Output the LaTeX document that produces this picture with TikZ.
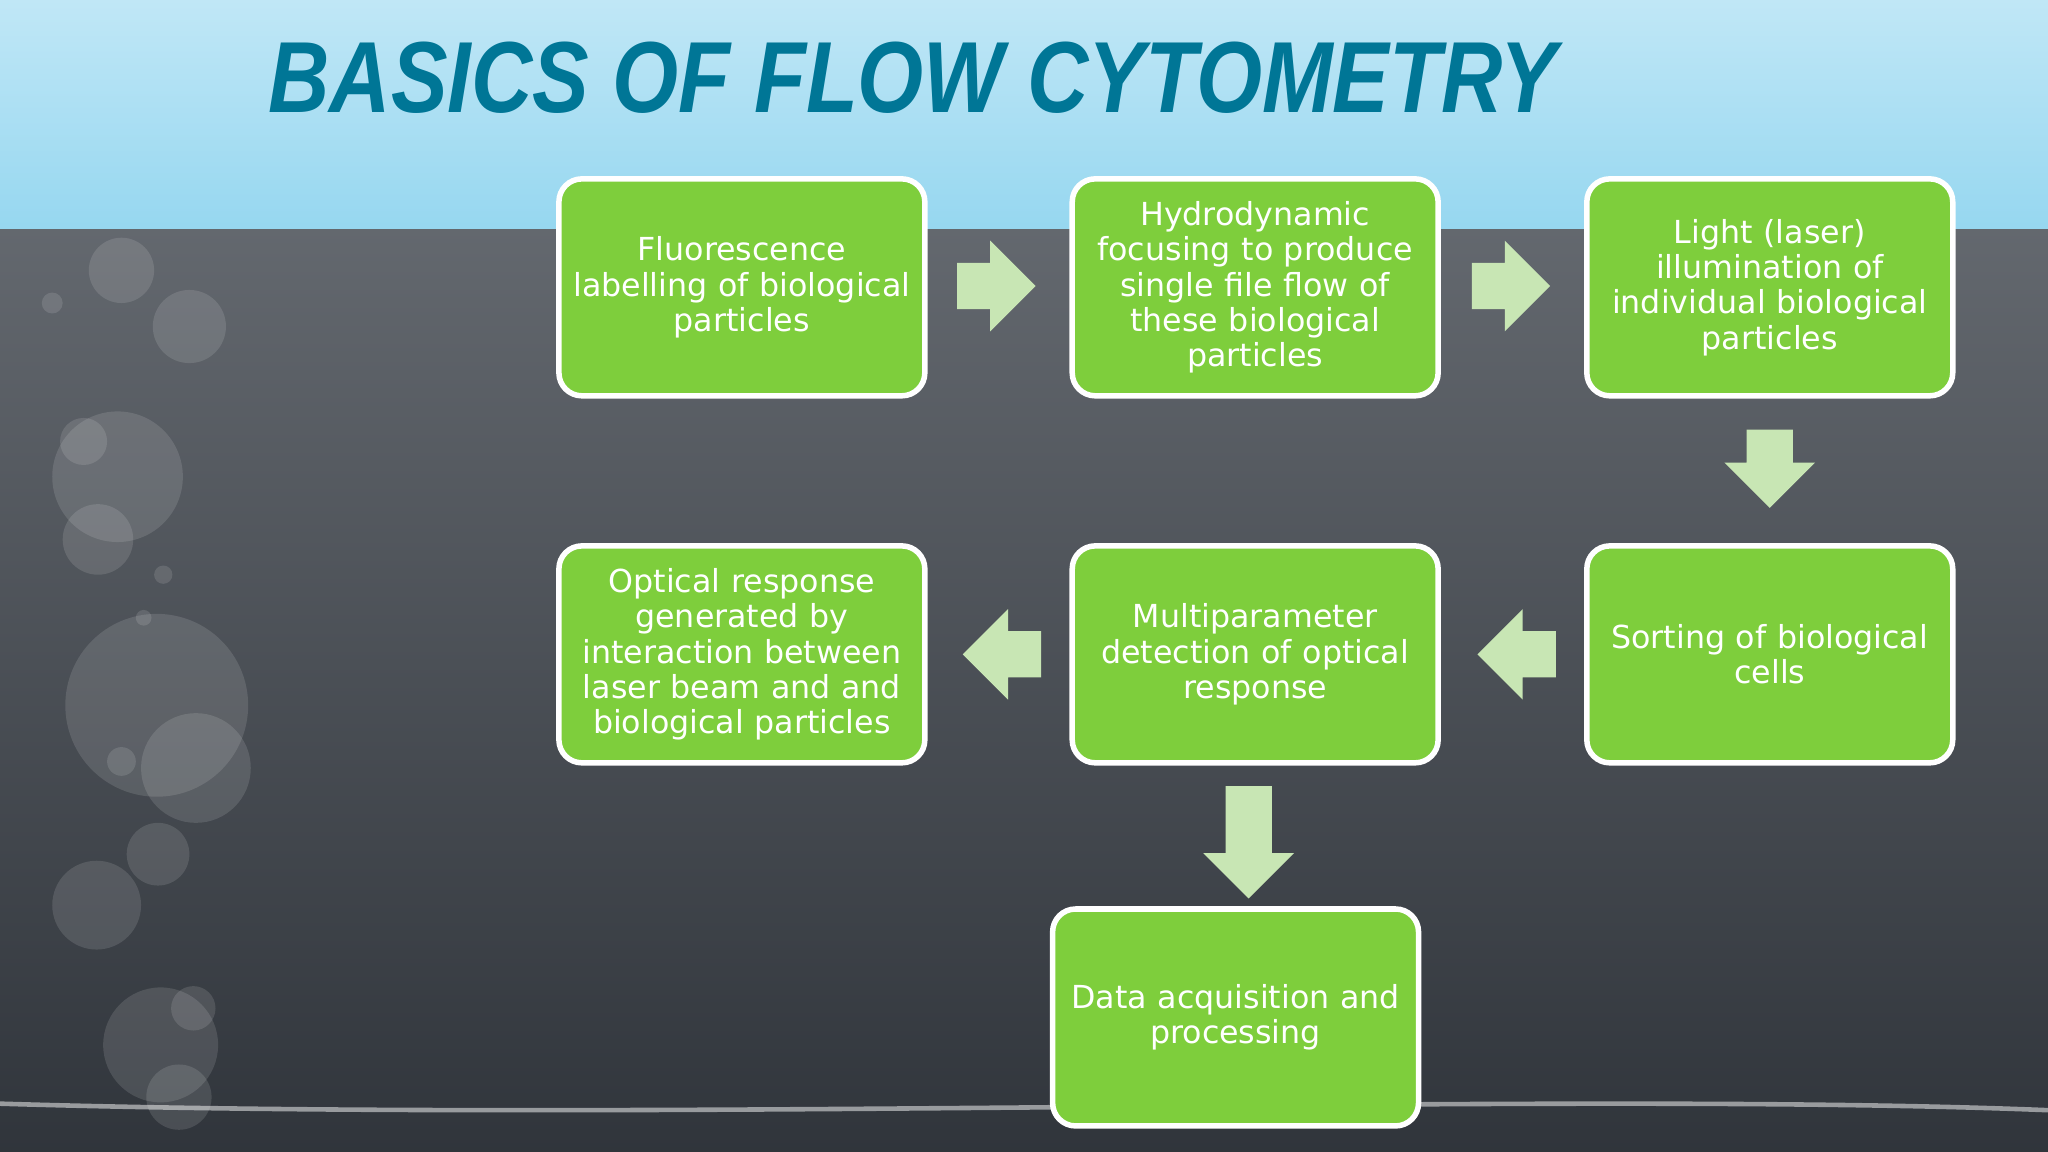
\documentclass[tikz,border=0pt]{standalone}
\usepackage{fontspec}
\setmainfont{DejaVu Sans}
\newfontfamily\titlefont{Liberation Sans}
\usetikzlibrary{shapes.arrows, positioning}
\hyphenpenalty=10000
\definecolor{boxgreen}{RGB}{126,206,60}
\definecolor{arrowgreen}{RGB}{200,230,180}
\definecolor{titleblue}{RGB}{0,118,150}
\definecolor{sky}{RGB}{150,215,240}
\definecolor{water}{RGB}{60,66,74}
\tikzset{
  stage/.style = {rectangle, rounded corners=5pt, draw=white, line width=1.2pt, fill=boxgreen,
    minimum width=2.8cm, minimum height=1.66cm, text width=2.74cm, inner xsep=0.01cm, align=center,
    text=white, font=\fontsize{6.9}{7.7}\selectfont},
  flow/.style = {single arrow, fill=arrowgreen, draw=none, minimum width=0.68cm,
    single arrow head extend=0.17cm, minimum height=0.6cm, inner xsep=0pt, inner ysep=0.17cm}
}
\begin{document}
\begin{tikzpicture}[x=0.01cm, y=-0.01cm]
  % background
  \useasboundingbox (0,0) rectangle (1568,882);
  \shade[top color=sky!60!white, bottom color=sky] (0,0) rectangle (1568,176);
  \shade[top color=water!80!white, bottom color=water!80!black] (0,176) rectangle (1568,882);
  \draw[white, opacity=0.5, line width=1pt] (0,845) .. controls (500,860) and (1200,835) .. (1568,850);
  % bubbles
  \foreach \x/\y/\r in {93/207/25, 145/250/28, 90/365/50, 75/413/27, 64/338/18, 120/540/70,
    150/588/42, 121/654/24, 74/693/34, 123/800/44, 137/840/25, 148/772/17, 40/232/8, 125/440/7, 110/473/6, 93/583/11}
    \fill[white, opacity=0.12] (\x,\y) circle (\r);
  % title
  \node[anchor=base west, inner sep=0pt, xscale=0.84, transform shape, text=titleblue, font=\titlefont\bfseries\itshape\fontsize{22}{26}\selectfont] (title) at (205,86) {BASICS OF FLOW CYTOMETRY};

  % stages
  \node[stage] (label) at (568,220) {Fluorescence\\ labelling of biological\\ particles};
  \node[stage] (focus) at (961,220) {Hydrodynamic\\ focusing to produce\\ single file flow of\\ these biological\\ particles};
  \node[stage] (light) at (1355,220) {Light (laser)\\ illumination of\\ individual biological\\ particles};
  \node[stage] (sort) at (1355,501) {Sorting of biological\\ cells};
  \node[stage] (detect) at (961,501) {Multiparameter\\ detection of optical\\ response};
  \node[stage] (optic) at (568,501) {Optical response\\ generated by\\ interaction between\\ laser beam and and\\ biological particles};
  \node[stage] (data) at (946,779) {Data acquisition and\\ processing};

  % arrows
  \node[flow] (a1) at (754,219) {};
  \node[flow] (a2) at (1148,219) {};
  \node[flow, rotate=-90] (a3) at (1355,350) {};
  \node[flow, rotate=180] (a4) at (1170,501) {};
  \node[flow, rotate=180] (a5) at (776,501) {};
  \node[flow, rotate=-90, minimum height=0.86cm] (a6) at (956,636) {};
\end{tikzpicture}
\end{document}
